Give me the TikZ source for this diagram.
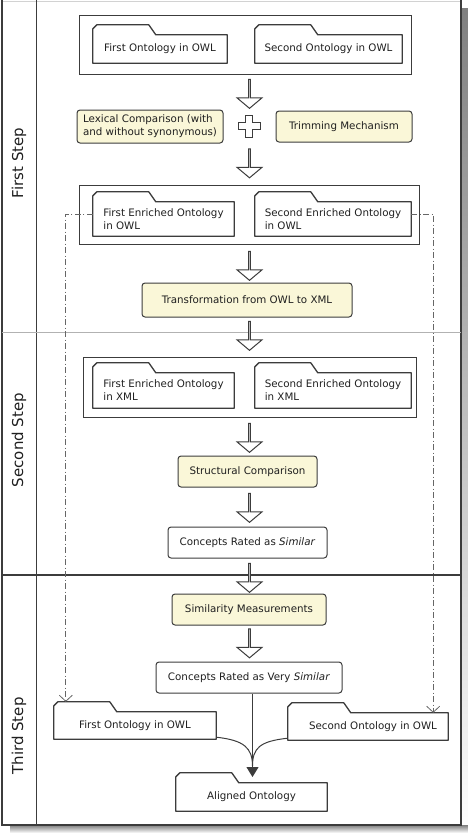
\documentclass[tikz,border=0pt]{standalone}
\usepackage{fontspec}
\setmainfont{DejaVu Sans}
\usetikzlibrary{shapes.arrows}
\usetikzlibrary{arrows.meta}
\usetikzlibrary{calc}

\definecolor{boxline}{RGB}{60,60,60}
\definecolor{stepfill}{RGB}{250,247,216}
\definecolor{shade}{RGB}{105,105,105}

\begin{document}
\begin{tikzpicture}[x=1pt,y=-1pt,
  every node/.style={font=\fontsize{10.3}{13}\selectfont, text=black!88},
  frame/.style={draw=boxline, line width=1pt},
  task/.style={draw=boxline, fill=stepfill, rounded corners=3pt, line width=1pt, inner sep=0pt},
  result/.style={draw=boxline, fill=white, rounded corners=3pt, line width=1pt, inner sep=0pt},
  folder/.style={inner sep=0pt, align=left},
  fat/.style={single arrow, draw=boxline, fill=white, line width=1pt, shape border rotate=270,
    minimum height=29pt, minimum width=25pt, single arrow head extend=7.5pt,
    single arrow tip angle=100, inner sep=0pt},
  lane/.style={rotate=90, font=\fontsize{15}{18}\selectfont},
  link/.style={draw=black!60, line width=0.8pt, dash pattern=on 6pt off 2.5pt on 1pt off 2.5pt,
    -{Straight Barb[length=6pt,width=13pt]}}]
  \useasboundingbox (0,0) rectangle (468,833);
  % frame and lanes
  \fill[shade] (461,8) rectangle (468,833);
  \fill[shade] (10,825) rectangle (468,833);
  \draw[gray!35] (1.5,1.5) -- (461,1.5);
  \draw[boxline, line width=2pt] (1.5,0) -- (1.5,825) -- (461,825) -- (461,0);
  \draw[boxline] (36,0) -- (36,825);
  \draw[gray!60] (1.5,332) -- (461,332);
  \draw[boxline, line width=1.2pt] (1.5,575) -- (461,575);
  \node[lane] (l1) at (19,163) {First Step};
  \node[lane] (l2) at (19,440) {Second Step};
  \node[lane] (l3) at (19,736) {Third Step};

  % first step
  \node[frame, minimum width=332pt, minimum height=59pt] (src) at (245,44.5) {};
  \node[folder, minimum width=134pt, minimum height=28pt] (fA) at (160,49) {First Ontology in OWL};
  \node[folder, minimum width=147pt, minimum height=28pt] (fB) at (328.5,49) {Second Ontology in OWL};
  \node[task, minimum width=146pt, minimum height=33pt, align=left] (lex) at (150,126.5)
    {Lexical Comparison (with\\and without synonymous)};
  \node[task, minimum width=136pt, minimum height=31pt] (trim) at (344,126.5) {Trimming Mechanism};
  \draw[boxline, line width=1pt, fill=white, shift={(249,126)}]
    (-3.5,-11) -- (3.5,-11) -- (3.5,-3.5) -- (11,-3.5) -- (11,3.5) -- (3.5,3.5)
    -- (3.5,11) -- (-3.5,11) -- (-3.5,3.5) -- (-11,3.5) -- (-11,-3.5) -- (-3.5,-3.5) -- cycle;
  \node[frame, minimum width=340pt, minimum height=59pt] (enr) at (249,214.5) {};
  \node[folder, minimum width=141pt, minimum height=34pt] (fC) at (163.5,219) {First Enriched Ontology\\in OWL};
  \node[folder, minimum width=156pt, minimum height=34pt] (fD) at (333,219) {Second Enriched Ontology\\in OWL};
  \node[task, minimum width=210pt, minimum height=34pt] (trans) at (247,300) {Transformation from OWL to XML};

  % second step
  \node[frame, minimum width=333pt, minimum height=60pt] (xml) at (249.5,387) {};
  \node[folder, minimum width=141pt, minimum height=35pt] (fE) at (163.5,390.5) {First Enriched Ontology\\in XML};
  \node[folder, minimum width=156pt, minimum height=35pt] (fF) at (333,390.5) {Second Enriched Ontology\\in XML};
  \node[task, minimum width=139pt, minimum height=31pt] (struct) at (247.5,471.5) {Structural Comparison};
  \node[result, minimum width=159pt, minimum height=31pt] (sim) at (247.5,542.5) {Concepts Rated as \textit{Similar}};

  % third step
  \node[task, minimum width=154pt, minimum height=31pt] (meas) at (249,609.5) {Similarity Measurements};
  \node[result, minimum width=186pt, minimum height=31pt] (vsim) at (249,677.5) {Concepts Rated as Very \textit{Similar}};
  \node[folder, minimum width=162pt, minimum height=27pt] (fG) at (135,725.5) {First Ontology in OWL};
  \node[folder, minimum width=160pt, minimum height=27pt] (fH) at (368,726.5) {\hspace{10pt}Second Ontology in OWL};
  \node[folder, minimum width=151pt, minimum height=28pt] (align) at (251.5,797) {Aligned Ontology};

  \foreach \f in {fA,fB,fC,fD,fE,fF,fG,fH,align}
    \draw[boxline, line width=1.3pt, line join=round] (\f.south west) -- (\f.north west)
      -- ++(0,-6) -- ++(4,-4) -- ++(52,0) -- ++(7,10) -- (\f.north east) -- (\f.south east) -- cycle;

  \foreach \y [count=\i] in {93.5,163,265.5,335.5,437.5,507.5,577.5,643}
    \node[fat] (arr\i) at (249.5,\y) {};

  \draw[link] ([yshift=5pt]fC.west) -| ($(fG.north west)+(12,-10)$);
  \draw[link] ([yshift=5pt]fD.east) -| ($(fH.north east)+(-15,0)$);

  \coordinate (tip) at (252.5,777);
  \draw[boxline, line width=1pt, -{Triangle[length=10pt,width=12pt]}] (vsim.south -| tip) -- (tip);
  \draw[boxline, line width=1pt] ([yshift=2pt]fG.south east) .. controls +(28,3) and +(0,-18) .. ($(tip)+(0,-11)$);
  \draw[boxline, line width=1pt] ([yshift=2pt]fH.south west) .. controls +(-28,3) and +(0,-18) .. ($(tip)+(0,-11)$);
\end{tikzpicture}
\end{document}
